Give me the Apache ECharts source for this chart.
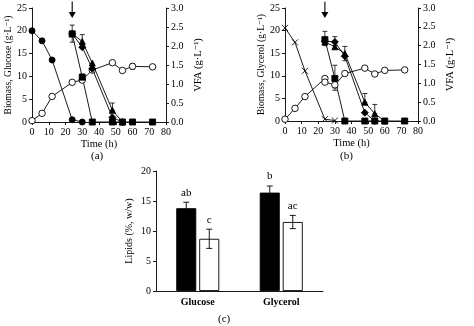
<!DOCTYPE html>
<html><head><meta charset="utf-8">
<script src="https://cdn.jsdelivr.net/npm/echarts@6/dist/echarts.min.js"></script>
<style>html,body{margin:0;padding:0;background:#fff}#c{width:474px;height:326px}</style>
</head><body><div id="c"></div>
<script>
// ---- Panel (a): glucose ----
const glucoseTimeA = [0, 6, 12, 24, 30];
const glucoseA = [20.0, 17.8, 13.6, 0.5, 0.0];
const biomassTimeA = [0, 6, 12, 24, 30, 36, 48, 54, 60, 72];
const biomassA = [0.3, 1.9, 5.6, 8.7, 9.2, 11.4, 13.0, 11.3, 12.2, 12.1];
const vfaTimeA = [24, 30, 36, 48, 54, 60, 72];
const squareA = [2.32, 1.18, 0, 0, 0, 0, 0];
const diamondTimeA = [24, 30, 36, 48, 54];
const diamondA = [2.32, 1.97, 1.40, 0.12, 0];
const triangleTimeA = [24, 30, 36, 48, 54];
const triangleA = [2.32, 2.12, 1.55, 0.31, 0];
const errLeftA = [[60, 11.6, 12.8]];
const errRightA = [[24, 2.10, 2.55], [30, 1.10, 1.26], [30, 1.96, 2.30], [48, 0.31, 0.50]];

// ---- Panel (b): glycerol ----
const glycerolTimeB = [0, 6, 12, 24, 30];
const glycerolB = [20.6, 17.4, 11.1, 0.4, 0.1];
const biomassTimeB = [0, 6, 12, 24, 24, 30, 36, 48, 54, 60, 72];
const biomassB = [0.4, 2.8, 5.4, 9.4, 8.6, 8.0, 10.5, 11.7, 10.4, 11.2, 11.3];
const vfaTimeB = [24, 30, 36, 48, 54, 60, 72];
const squareB = [2.16, 1.13, 0, 0, 0, 0, 0];
const diamondTimeB = [24, 30, 36, 48, 54];
const diamondB = [2.12, 2.10, 1.72, 0.22, 0];
const triangleTimeB = [24, 30, 36, 48, 54, 60];
const triangleB = [2.10, 1.97, 1.79, 0.50, 0.19, 0];
const errLeftB = [[30, 6.8, 9.2]];
const errRightB = [[24, 2.00, 2.38], [30, 0.88, 1.48], [30, 2.00, 2.24], [36, 1.60, 1.98], [48, 0.50, 0.73], [54, 0.19, 0.44]];

// ---- Panel (c): lipids ----
const substrates = ['Glucose', 'Glycerol'];
const lipidsBlack = [13.8, 16.4];
const errBlack = [1.0, 1.1];
const lettersBlack = ['ab', 'b'];
const lipidsWhite = [8.7, 11.5];
const errWhite = [1.6, 1.1];
const lettersWhite = ['c', 'ac'];

const xTicks = [0, 80, 10];
const leftTicks = [0, 25, 5];
const rightTicks = [0, 3, 0.5];
const lipidTicks = [0, 20, 5];
// VFA feeding arrow: [time, from, to] in left-axis units
const arrowA = [[24, 26.4, 22.8]];
const arrowB = [[24, 26.4, 22.8]];

const FONT = '"Liberation Serif", "DejaVu Serif", serif';
const K = '#000';
const pairs = (t, v) => t.map((x, i) => [x, v[i]]);

function errItem(offset) {
  return function (params, api) {
    const x = api.value(0), lo = api.value(1), hi = api.value(2);
    const p1 = api.coord([x, hi]), p0 = api.coord([x, lo]);
    const cx = p1[0] + offset, w = 2.5;
    const st = { stroke: K, lineWidth: 0.8 };
    return { type: 'group', children: [
      { type: 'line', shape: { x1: cx, y1: p1[1], x2: cx, y2: p0[1] }, style: st },
      { type: 'line', shape: { x1: cx - w, y1: p1[1], x2: cx + w, y2: p1[1] }, style: st },
      { type: 'line', shape: { x1: cx - w, y1: p0[1], x2: cx + w, y2: p0[1] }, style: st }
    ] };
  };
}
function arrowItem(params, api) {
  const x = api.value(0);
  const a = api.coord([x, api.value(1)]), b = api.coord([x, api.value(2)]);
  const hw = 3.5, hh = 6;
  return { type: 'group', children: [
    { type: 'line', shape: { x1: a[0], y1: a[1], x2: b[0], y2: b[1] - hh + 1 }, style: { stroke: K, lineWidth: 1.1 } },
    { type: 'polygon', shape: { points: [[b[0] - hw, b[1] - hh], [b[0] + hw, b[1] - hh], [b[0], b[1]]] }, style: { fill: K } }
  ] };
}
function errBarItem(offset, letters) {
  return function (params, api) {
    const x = api.value(0), lo = api.value(1), hi = api.value(2);
    const p1 = api.coord([x, hi]), p0 = api.coord([x, lo]);
    const cx = p1[0] + offset, w = 3;
    const st = { stroke: K, lineWidth: 0.9 };
    return { type: 'group', children: [
      { type: 'line', shape: { x1: cx, y1: p1[1], x2: cx, y2: p0[1] }, style: st },
      { type: 'line', shape: { x1: cx - w, y1: p1[1], x2: cx + w, y2: p1[1] }, style: st },
      { type: 'line', shape: { x1: cx - w, y1: p0[1], x2: cx + w, y2: p0[1] }, style: st },
      { type: 'text', style: { text: letters[params.dataIndex], x: cx, y: p1[1] - 4, align: 'center', verticalAlign: 'bottom', font: '11px ' + FONT, fill: K } }
    ] };
  };
}

const axisCommon = {
  axisLine: { show: true, lineStyle: { color: K, width: 0.9 } },
  axisTick: { show: true, inside: false, length: 3, lineStyle: { color: K, width: 0.9 } },
  axisLabel: { color: K, fontFamily: FONT, fontSize: 10, margin: 5 },
  splitLine: { show: false },
  nameTextStyle: { color: K, fontFamily: FONT, fontSize: 10 }
};
function xAxisTime(gi) {
  return Object.assign({}, axisCommon, { type: 'value', gridIndex: gi, min: xTicks[0], max: xTicks[1], interval: xTicks[2],
    name: 'Time (h)', nameLocation: 'middle', nameGap: 17, nameTextStyle: Object.assign({}, axisCommon.nameTextStyle, { fontSize: 10.5 }) });
}
function yLeft(gi, name) {
  return Object.assign({}, axisCommon, { type: 'value', gridIndex: gi, min: leftTicks[0], max: leftTicks[1], interval: leftTicks[2],
    position: 'left', name, nameLocation: 'middle', nameGap: 18, nameRotate: 90,
    nameTextStyle: Object.assign({}, axisCommon.nameTextStyle, { fontSize: 9.5 }) });
}
function yRight(gi) {
  return Object.assign({}, axisCommon, { type: 'value', gridIndex: gi, min: rightTicks[0], max: rightTicks[1], interval: rightTicks[2],
    position: 'right', name: 'VFA (g·L⁻¹)', nameLocation: 'middle', nameGap: 27, nameRotate: 90,
    nameTextStyle: Object.assign({}, axisCommon.nameTextStyle, { fontSize: 10.5 }),
    axisLabel: Object.assign({}, axisCommon.axisLabel, { formatter: v => v.toFixed(1) }) });
}
function lineS(xi, yi, data, symbol, fill, size) {
  return { type: 'line', xAxisIndex: xi, yAxisIndex: yi, data, symbol, symbolSize: size || 6,
    showAllSymbol: true, lineStyle: { color: K, width: 0.9 },
    itemStyle: { color: fill, borderColor: K, borderWidth: 0.9 }, z: 3, animation: false };
}
const crossPath = 'path://M0,0L10,10M10,0L0,10';

const option = {
  animation: false,
  backgroundColor: '#fff',
  grid: [
    { left: 32, right: 308, top: 8, bottom: 204 },
    { left: 285, right: 56, top: 8, bottom: 205 },
    { left: 156, right: 151, top: 171, bottom: 35 }
  ],
  xAxis: [
    xAxisTime(0), xAxisTime(1),
    Object.assign({}, axisCommon, { type: 'category', gridIndex: 2, data: substrates,
      axisTick: { show: false }, axisLabel: Object.assign({}, axisCommon.axisLabel, { fontWeight: 'bold', margin: 6 }) })
  ],
  yAxis: [
    yLeft(0, 'Biomass, Glucose (g·L⁻¹)'), yRight(0),
    yLeft(1, 'Biomass, Glycerol (g·L⁻¹)'), yRight(1),
    Object.assign({}, axisCommon, { type: 'value', gridIndex: 2, min: lipidTicks[0], max: lipidTicks[1], interval: lipidTicks[2],
      name: 'Lipids (%, w/w)', nameLocation: 'middle', nameGap: 22, nameRotate: 90 })
  ],
  series: [
    lineS(0, 0, pairs(glucoseTimeA, glucoseA), 'circle', K),
    lineS(0, 0, pairs(biomassTimeA, biomassA), 'circle', '#fff', 6.5),
    lineS(0, 1, pairs(vfaTimeA, squareA), 'rect', K),
    lineS(0, 1, pairs(diamondTimeA, diamondA), 'diamond', K, 7),
    lineS(0, 1, pairs(triangleTimeA, triangleA), 'triangle', K),
    { type: 'custom', xAxisIndex: 0, yAxisIndex: 0, data: errLeftA, renderItem: errItem(0), z: 2 },
    { type: 'custom', xAxisIndex: 0, yAxisIndex: 1, data: errRightA, renderItem: errItem(0), z: 2 },
    { type: 'custom', xAxisIndex: 0, yAxisIndex: 0, data: arrowA, renderItem: arrowItem, clip: false, z: 4 },

    lineS(1, 2, pairs(glycerolTimeB, glycerolB), crossPath, 'none', 6),
    lineS(1, 2, pairs(biomassTimeB, biomassB), 'circle', '#fff', 6.5),
    lineS(1, 3, pairs(vfaTimeB, squareB), 'rect', K),
    lineS(1, 3, pairs(diamondTimeB, diamondB), 'diamond', K, 7),
    lineS(1, 3, pairs(triangleTimeB, triangleB), 'triangle', K),
    { type: 'custom', xAxisIndex: 1, yAxisIndex: 2, data: errLeftB, renderItem: errItem(0), z: 2 },
    { type: 'custom', xAxisIndex: 1, yAxisIndex: 3, data: errRightB, renderItem: errItem(0), z: 2 },
    { type: 'custom', xAxisIndex: 1, yAxisIndex: 2, data: arrowB, renderItem: arrowItem, clip: false, z: 4 },

    { type: 'bar', xAxisIndex: 2, yAxisIndex: 4, data: lipidsBlack, barWidth: 20, barGap: '15%',
      itemStyle: { color: K, borderColor: K, borderWidth: 0.9 }, animation: false },
    { type: 'bar', xAxisIndex: 2, yAxisIndex: 4, data: lipidsWhite, barWidth: 20, barGap: '15%',
      itemStyle: { color: '#fff', borderColor: K, borderWidth: 0.9 }, animation: false },
    { type: 'custom', xAxisIndex: 2, yAxisIndex: 4, z: 5,
      data: lipidsBlack.map((v, i) => [i, v - errBlack[i], v + errBlack[i]]),
      renderItem: errBarItem(-11.5, lettersBlack) },
    { type: 'custom', xAxisIndex: 2, yAxisIndex: 4, z: 5,
      data: lipidsWhite.map((v, i) => [i, v - errWhite[i], v + errWhite[i]]),
      renderItem: errBarItem(11.5, lettersWhite) }
  ],
  graphic: [
    { type: 'text', left: 91, top: 151, style: { text: '(a)', font: '11px ' + FONT, fill: K } },
    { type: 'text', left: 340, top: 151, style: { text: '(b)', font: '11px ' + FONT, fill: K } },
    { type: 'text', left: 218, top: 314, style: { text: '(c)', font: '11px ' + FONT, fill: K } }
  ]
};
const chart = echarts.init(document.getElementById('c'), null, { renderer: 'canvas' });
chart.setOption(option);
</script></body></html>
